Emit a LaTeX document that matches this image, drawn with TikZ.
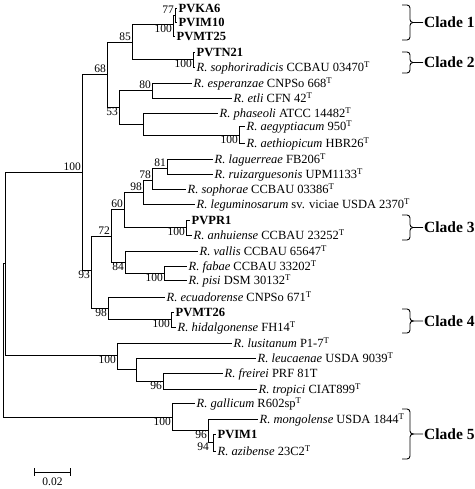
\documentclass[tikz,border=0pt]{standalone}
\usepackage{fontspec}
\setmainfont{Liberation Serif}
\usetikzlibrary{calc}

\begin{document}
\begin{tikzpicture}[x=1pt, y=-1pt,
  branch/.style={line width=0.9pt},
  taxon/.style={anchor=base west, inner sep=1.5pt, yshift=-4.5pt, font=\fontsize{12.5}{14}\selectfont},
  boot/.style={inner sep=1pt, font=\fontsize{11.5}{13}\selectfont},
  clade/.style={anchor=west, inner sep=1pt, font=\fontsize{15.5}{17}\selectfont\bfseries}]
  \useasboundingbox (0,0) rectangle (474,489);

  % Internal nodes of the tree
  \coordinate (root) at (3,263);
  \coordinate (nB) at (5,263);
  \coordinate (nA) at (82,172);
  \coordinate (n68) at (107,74);
  \coordinate (n85) at (132,42);
  \coordinate (nC1) at (173,24);
  \coordinate (n77) at (175,15);
  \coordinate (nTN) at (193,59);
  \coordinate (n53) at (119,107);
  \coordinate (n80) at (152,90);
  \coordinate (nPh) at (143,124);
  \coordinate (nAe) at (239,135);
  \coordinate (n93) at (91,270);
  \coordinate (n72) at (111,236);
  \coordinate (n60) at (124,209);
  \coordinate (n98a) at (143,192);
  \coordinate (n78) at (152,180);
  \coordinate (n81) at (167,168);
  \coordinate (nPR) at (186,227);
  \coordinate (n84) at (125,262);
  \coordinate (nFa) at (164,273);
  \coordinate (n98b) at (108,308);
  \coordinate (nMT) at (171,319);
  \coordinate (nLu) at (117,355);
  \coordinate (nLe) at (136,369);
  \coordinate (n96a) at (163,381);
  \coordinate (nGa) at (172,417);
  \coordinate (n96b) at (208,430);
  \coordinate (n94) at (213,442);

  % Leaves and their names
  \foreach \n/\x/\y/\t in {
    KA6/177/8/\textbf{PVKA6},
    IM10/177/22/\textbf{PVIM10},
    MT25/175/36/\textbf{PVMT25},
    TN21/195/52/\textbf{PVTN21},
    Sr/195/67/{\textit{R. sophoriradicis} CCBAU 03470\textsuperscript{T}},
    Es/192/83/{\textit{R. esperanzae} CNPSo 668\textsuperscript{T}},
    Et/232/98/{\textit{R. etli} CFN 42\textsuperscript{T}},
    Ph/218/113/{\textit{R. phaseoli} ATCC 14482\textsuperscript{T}},
    Eg/245/126/{\textit{R. aegyptiacum} 950\textsuperscript{T}},
    Eh/245/143/{\textit{R. aethiopicum} HBR26\textsuperscript{T}},
    La/213/159/{\textit{R. laguerreae} FB206\textsuperscript{T}},
    Ru/213/174/{\textit{R. ruizarguesonis} UPM1133\textsuperscript{T}},
    So/186/189/{\textit{R. sophorae} CCBAU 03386\textsuperscript{T}},
    Lg/195/204/{\textit{R. leguminosarum} sv. viciae USDA 2370\textsuperscript{T}},
    PR1/190/220/\textbf{PVPR1},
    An/192/235/{\textit{R. anhuiense} CCBAU 23252\textsuperscript{T}},
    Va/198/251/{\textit{R. vallis} CCBAU 65647\textsuperscript{T}},
    Fa/187/266/{\textit{R. fabae} CCBAU 33202\textsuperscript{T}},
    Pi/187/280/{\textit{R. pisi} DSM 30132\textsuperscript{T}},
    Ec/165/297/{\textit{R. ecuadorense} CNPSo 671\textsuperscript{T}},
    MT26/174/312/\textbf{PVMT26},
    Hi/176/327/{\textit{R. hidalgonense} FH14\textsuperscript{T}},
    Ls/232/343/{\textit{R. lusitanum} P1-7\textsuperscript{T}},
    Lc/256/358/{\textit{R. leucaenae} USDA 9039\textsuperscript{T}},
    Fr/223/373/{\textit{R. freirei} PRF 81T},
    Tr/257/389/{\textit{R. tropici} CIAT899\textsuperscript{T}},
    Gl/195/403/{\textit{R. gallicum} R602sp\textsuperscript{T}},
    Mo/258/419/{\textit{R. mongolense} USDA 1844\textsuperscript{T}},
    IM1/216/434/\textbf{PVIM1},
    Az/216/451/{\textit{R. azibense} 23C2\textsuperscript{T}}}
  {
    \coordinate (l\n) at (\x,\y);
    \node[taxon] (t\n) at (l\n) {\t};
  }

  % Branches
  \draw[branch] (root) |- (nB) (root) |- (nGa);
  \draw[branch] (nB) |- (nA) (nB) |- (nLu);
  \draw[branch] (nA) |- (n68) (nA) |- (n93);
  \draw[branch] (n68) |- (n85) (n68) |- (n53);
  \draw[branch] (n85) |- (nC1) (n85) |- (nTN);
  \draw[branch] (nC1) |- (n77) (nC1) |- (lMT25);
  \draw[branch] (n77) |- (lKA6) (n77) |- (lIM10);
  \draw[branch] (nTN) |- (lTN21) (nTN) |- (lSr);
  \draw[branch] (n53) |- (n80) (n53) |- (nPh);
  \draw[branch] (n80) |- (lEs) (n80) |- (lEt);
  \draw[branch] (nPh) |- (lPh) (nPh) |- (nAe);
  \draw[branch] (nAe) |- (lEg) (nAe) |- (lEh);
  \draw[branch] (n93) |- (n72) (n93) |- (n98b);
  \draw[branch] (n72) |- (n60) (n72) |- (n84);
  \draw[branch] (n60) |- (n98a) (n60) |- (nPR);
  \draw[branch] (n98a) |- (n78) (n98a) |- (lLg);
  \draw[branch] (n78) |- (n81) (n78) |- (lSo);
  \draw[branch] (n81) |- (lLa) (n81) |- (lRu);
  \draw[branch] (nPR) |- (lPR1) (nPR) |- (lAn);
  \draw[branch] (n84) |- (lVa) (n84) |- (nFa);
  \draw[branch] (nFa) |- (lFa) (nFa) |- (lPi);
  \draw[branch] (n98b) |- (lEc) (n98b) |- (nMT);
  \draw[branch] (nMT) |- (lMT26) (nMT) |- (lHi);
  \draw[branch] (nLu) |- (lLs) (nLu) |- (nLe);
  \draw[branch] (nLe) |- (lLc) (nLe) |- (n96a);
  \draw[branch] (n96a) |- (lFr) (n96a) |- (lTr);
  \draw[branch] (nGa) |- (lGl) (nGa) |- (n96b);
  \draw[branch] (n96b) |- (lMo) (n96b) |- (n94);
  \draw[branch] (n94) |- (lIM1) (n94) |- (lAz);

  % Bootstrap values
  \node[boot, above left] (bA) at (nA) {100};
  \node[boot, above left] (b68) at (n68) {68};
  \node[boot, above left] (b85) at (n85) {85};
  \node[boot, below left] (bC1) at (nC1) {100};
  \node[boot, above left] (b77) at (n77) {77};
  \node[boot, below left] (bTN) at (nTN) {100};
  \node[boot, below left] (b53) at (n53) {53};
  \node[boot, above left] (b80) at (n80) {80};
  \node[boot, below left] (bAe) at (nAe) {100};
  \node[boot, below left] (b93) at (n93) {93};
  \node[boot, above left] (b72) at (n72) {72};
  \node[boot, above left] (b60) at (n60) {60};
  \node[boot, above left] (b98a) at (n98a) {98};
  \node[boot, above left] (b78) at (n78) {78};
  \node[boot, above left] (b81) at (n81) {81};
  \node[boot, below left] (bPR) at (nPR) {100};
  \node[boot, below left] (b84) at (n84) {84};
  \node[boot, below left] (bFa) at (nFa) {100};
  \node[boot, below left] (b98b) at (n98b) {98};
  \node[boot, below left] (bMT) at (nMT) {100};
  \node[boot, below left] (bLu) at (nLu) {100};
  \node[boot, below left] (b96a) at (n96a) {96};
  \node[boot, below left] (bGa) at (nGa) {100};
  \node[boot, below left] (b96b) at (n96b) {96};
  \node[boot, below left, xshift=-3pt] (b94) at (n94) {94};

  % Clade brackets
  \foreach \yt/\yb/\k in {5/40/1, 52/73/2, 215/240/3, 309/333/4, 409/459/5}
  {
    \pgfmathsetmacro\ym{(\yt+\yb)/2}
    \node[clade] (clade\k) at (423,\ym) {Clade \k};
    \draw[branch, rounded corners=3pt] (402,\yt) -- (410,\yt) -- (410,\ym) -- (clade\k.west);
    \draw[branch, rounded corners=3pt] (402,\yb) -- (410,\yb) -- (410,\ym) -- (414,\ym);
  }

  % Scale bar
  \coordinate (sbL) at (34,472);
  \coordinate (sbR) at (71,472);
  \draw[branch, |-|] (sbL) -- (sbR);
  \node[boot, below] (sbT) at ($(sbL)!0.5!(sbR)+(0,5)$) {0.02};
\end{tikzpicture}
\end{document}
